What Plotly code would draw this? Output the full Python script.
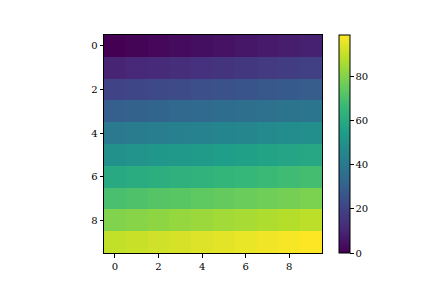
import plotly.graph_objects as go

cols = [0, 1, 2, 3, 4, 5, 6, 7, 8, 9]
rows = [0, 1, 2, 3, 4, 5, 6, 7, 8, 9]
values = [
    [0, 1, 2, 3, 4, 5, 6, 7, 8, 9],
    [10, 11, 12, 13, 14, 15, 16, 17, 18, 19],
    [20, 21, 22, 23, 24, 25, 26, 27, 28, 29],
    [30, 31, 32, 33, 34, 35, 36, 37, 38, 39],
    [40, 41, 42, 43, 44, 45, 46, 47, 48, 49],
    [50, 51, 52, 53, 54, 55, 56, 57, 58, 59],
    [60, 61, 62, 63, 64, 65, 66, 67, 68, 69],
    [70, 71, 72, 73, 74, 75, 76, 77, 78, 79],
    [80, 81, 82, 83, 84, 85, 86, 87, 88, 89],
    [90, 91, 92, 93, 94, 95, 96, 97, 98, 99],
]
cbar_ticks = [0, 20, 40, 60, 80]
axis_ticks = [0, 2, 4, 6, 8]

FONT = "'DejaVu Serif', 'Liberation Serif', serif"

fig = go.Figure(go.Heatmap(
    x=cols, y=rows, z=values,
    colorscale="Viridis", zmin=0, zmax=99,
    colorbar=dict(
        x=(339 - 104) / 218, xanchor="left", xref="paper",
        y=0.5, yanchor="middle", len=1, lenmode="fraction",
        thickness=11, thicknessmode="pixels",
        outlinewidth=1, outlinecolor="black",
        tickvals=cbar_ticks, ticks="outside", ticklen=3.5,
        tickwidth=0.8, tickcolor="black",
        tickfont=dict(family=FONT, size=10, color="black"),
        xpad=0, ypad=0,
    ),
))

axis_common = dict(
    showgrid=False, zeroline=False, showline=True, linecolor="black",
    linewidth=1, mirror=True, ticks="outside", ticklen=3.5, tickwidth=0.8,
    tickcolor="black", tickvals=axis_ticks,
    tickfont=dict(family=FONT, size=10, color="black"),
)

fig.update_xaxes(range=[-0.5, 9.5], **axis_common)
fig.update_yaxes(range=[9.5, -0.5], **axis_common)

fig.update_layout(
    width=432, height=288,
    margin=dict(l=104, r=110, t=35, b=35),
    paper_bgcolor="white", plot_bgcolor="white",
    font=dict(family=FONT, size=10, color="black"),
)

fig.write_html("out.html")
